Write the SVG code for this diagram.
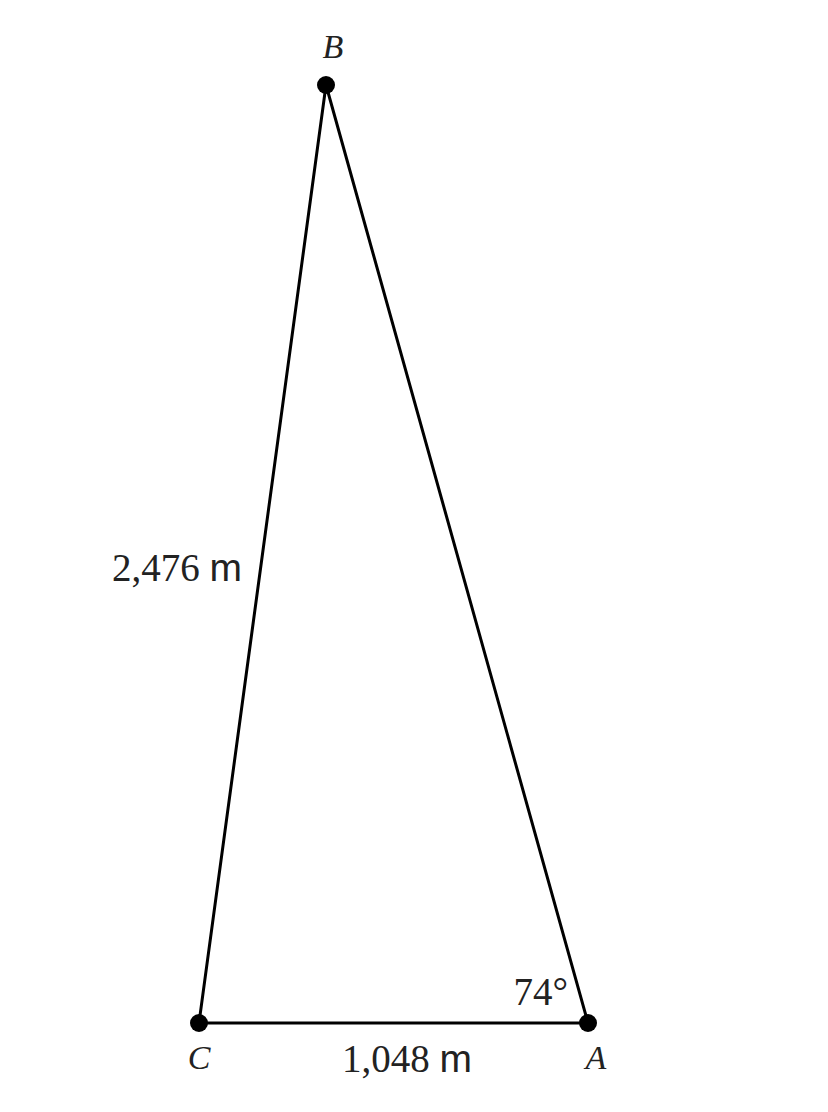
<svg xmlns="http://www.w3.org/2000/svg" width="828" height="1112" viewBox="0 0 828 1112">
<style>
.edge{stroke:#000;stroke-width:3;fill:none;stroke-linecap:round}
.dot{fill:#000}
.lbl{font-family:"Liberation Serif",serif;font-style:italic;font-size:34px;fill:#222}
.num{font-family:"Liberation Serif",serif;font-size:39px;fill:#222}
.unit{font-family:"Liberation Sans",sans-serif}
</style>
<rect width="828" height="1112" fill="#fff"/>
<g id="connectors">
<line class="edge" x1="326" y1="85" x2="199" y2="1023"/>
<line class="edge" x1="326" y1="85" x2="588" y2="1023"/>
<line class="edge" x1="199" y1="1023" x2="588" y2="1023"/>
</g>
<g id="B"><circle class="dot" cx="326" cy="85" r="9"/><text class="lbl" x="333" y="58" text-anchor="middle">B</text></g>
<g id="C"><circle class="dot" cx="199" cy="1023" r="9"/><text class="lbl" x="199" y="1069" text-anchor="middle">C</text></g>
<g id="A"><circle class="dot" cx="588" cy="1023" r="9"/><text class="lbl" x="596" y="1069" text-anchor="middle">A</text></g>
<g id="labels">
<text class="num" x="242" y="581" text-anchor="end">2,476 <tspan class="unit">m</tspan></text>
<text class="num" x="407" y="1072" text-anchor="middle">1,048 <tspan class="unit">m</tspan></text>
<text class="num" x="568" y="1005" text-anchor="end" font-size="32">74°</text>
</g>
</svg>
